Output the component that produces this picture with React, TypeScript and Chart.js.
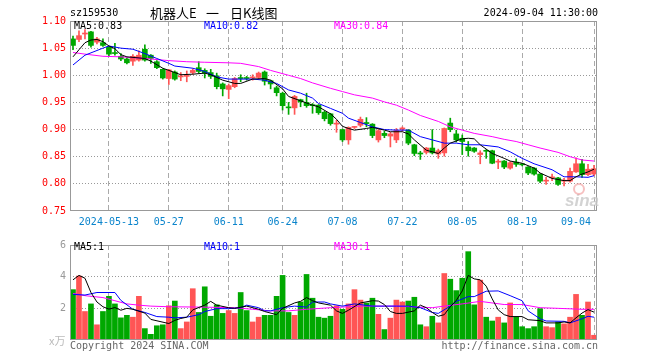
import React, { useEffect, useRef } from 'react';
import { Chart, registerables } from 'chart.js';
Chart.register(...registerables);

// ---------- data ----------
const dates = [
  '2024-04-30',
  '2024-05-06', '2024-05-07', '2024-05-08', '2024-05-09', '2024-05-10',
  '2024-05-13', '2024-05-14', '2024-05-15', '2024-05-16', '2024-05-17',
  '2024-05-20', '2024-05-21', '2024-05-22', '2024-05-23', '2024-05-24',
  '2024-05-27', '2024-05-28', '2024-05-29', '2024-05-30', '2024-05-31',
  '2024-06-03', '2024-06-04', '2024-06-05', '2024-06-06', '2024-06-07',
  '2024-06-11', '2024-06-12', '2024-06-13', '2024-06-14',
  '2024-06-17', '2024-06-18', '2024-06-19', '2024-06-20', '2024-06-21',
  '2024-06-24', '2024-06-25', '2024-06-26', '2024-06-27', '2024-06-28',
  '2024-07-01', '2024-07-02', '2024-07-03', '2024-07-04', '2024-07-05',
  '2024-07-08', '2024-07-09', '2024-07-10', '2024-07-11', '2024-07-12',
  '2024-07-15', '2024-07-16', '2024-07-17', '2024-07-18', '2024-07-19',
  '2024-07-22', '2024-07-23', '2024-07-24', '2024-07-25', '2024-07-26',
  '2024-07-29', '2024-07-30', '2024-07-31', '2024-08-01', '2024-08-02',
  '2024-08-05', '2024-08-06', '2024-08-07', '2024-08-08', '2024-08-09',
  '2024-08-12', '2024-08-13', '2024-08-14', '2024-08-15', '2024-08-16',
  '2024-08-19', '2024-08-20', '2024-08-21', '2024-08-22', '2024-08-23',
  '2024-08-26', '2024-08-27', '2024-08-28', '2024-08-29', '2024-08-30',
  '2024-09-02', '2024-09-03', '2024-09-04',
];

const opens = [
  1.067, 1.066, 1.076, 1.080, 1.061, 1.060, 1.052, 1.041, 1.035, 1.030,
  1.026, 1.028, 1.048, 1.037, 1.025, 1.011, 0.994, 1.006, 0.997, 0.998,
  1.005, 1.014, 1.009, 1.005, 0.999, 0.984, 0.974, 0.979, 0.995, 0.995,
  0.995, 0.996, 1.006, 0.990, 0.977, 0.967, 0.941, 0.940, 0.955, 0.950,
  0.945, 0.945, 0.932, 0.929, 0.910, 0.900, 0.881, 0.904, 0.908, 0.913,
  0.910, 0.881, 0.893, 0.888, 0.881, 0.901, 0.899, 0.872, 0.856, 0.858,
  0.866, 0.855, 0.857, 0.912, 0.892, 0.884, 0.868, 0.866, 0.854, 0.861,
  0.861, 0.840, 0.842, 0.829, 0.840, 0.837, 0.831, 0.829, 0.818, 0.805,
  0.811, 0.811, 0.805, 0.805, 0.822, 0.837, 0.817, 0.818,
];
const closes = [
  1.055, 1.073, 1.077, 1.055, 1.067, 1.055, 1.039, 1.040, 1.030, 1.023,
  1.035, 1.037, 1.028, 1.031, 1.014, 0.995, 1.010, 0.993, 0.998, 0.999,
  1.009, 1.007, 1.004, 0.998, 0.979, 0.975, 0.981, 0.994, 0.994, 0.994,
  0.997, 1.004, 0.989, 0.984, 0.968, 0.944, 0.940, 0.961, 0.951, 0.944,
  0.944, 0.931, 0.920, 0.911, 0.911, 0.881, 0.904, 0.904, 0.919, 0.911,
  0.889, 0.898, 0.889, 0.892, 0.898, 0.903, 0.875, 0.856, 0.855, 0.866,
  0.857, 0.861, 0.902, 0.900, 0.881, 0.878, 0.861, 0.860, 0.857, 0.860,
  0.838, 0.841, 0.831, 0.839, 0.836, 0.835, 0.820, 0.818, 0.805, 0.806,
  0.812, 0.799, 0.806, 0.823, 0.837, 0.817, 0.827, 0.828,
];
const highs = [
  1.072, 1.082, 1.084, 1.081, 1.070, 1.067, 1.053, 1.059, 1.040, 1.032,
  1.038, 1.045, 1.056, 1.038, 1.027, 1.012, 1.011, 1.008, 1.005, 1.008,
  1.012, 1.025, 1.012, 1.011, 1.004, 0.986, 0.984, 0.996, 1.001, 0.998,
  1.001, 1.006, 1.008, 0.991, 0.980, 0.969, 0.950, 0.963, 0.956, 0.967,
  0.948, 0.946, 0.934, 0.930, 0.917, 0.901, 0.905, 0.906, 0.923, 0.922,
  0.911, 0.900, 0.897, 0.895, 0.902, 0.905, 0.900, 0.873, 0.860, 0.867,
  0.900, 0.864, 0.903, 0.921, 0.899, 0.890, 0.878, 0.867, 0.861, 0.863,
  0.862, 0.845, 0.843, 0.841, 0.846, 0.838, 0.832, 0.830, 0.819, 0.812,
  0.818, 0.812, 0.810, 0.829, 0.848, 0.845, 0.836, 0.834,
];
const lows = [
  1.047, 1.062, 1.067, 1.052, 1.058, 1.053, 1.036, 1.037, 1.027, 1.021,
  1.018, 1.026, 1.026, 1.022, 1.012, 0.993, 0.983, 0.991, 0.990, 0.988,
  1.002, 1.004, 0.995, 0.994, 0.975, 0.962, 0.957, 0.977, 0.988, 0.991,
  0.991, 0.994, 0.982, 0.975, 0.962, 0.936, 0.928, 0.928, 0.942, 0.941,
  0.930, 0.928, 0.916, 0.908, 0.895, 0.878, 0.873, 0.902, 0.905, 0.905,
  0.885, 0.877, 0.885, 0.868, 0.876, 0.897, 0.872, 0.852, 0.845, 0.855,
  0.855, 0.847, 0.851, 0.896, 0.877, 0.854, 0.851, 0.858, 0.837, 0.847,
  0.837, 0.828, 0.828, 0.827, 0.832, 0.833, 0.817, 0.816, 0.802, 0.799,
  0.806, 0.797, 0.796, 0.803, 0.821, 0.812, 0.815, 0.815,
];

const volumes = [
  3.18, 4.04, 1.8, 2.28, 0.96, 1.8, 2.76, 2.28, 1.4, 1.56,
  1.44, 2.76, 0.72, 0.36, 0.9, 0.96, 2.16, 2.46, 0.72, 1.14,
  3.24, 1.74, 3.36, 1.5, 2.22, 1.68, 1.86, 1.68, 3.0, 1.86,
  1.14, 1.44, 1.56, 1.56, 2.76, 4.08, 1.74, 1.56, 2.4, 4.14,
  2.64, 1.44, 1.38, 1.5, 2.16, 1.94, 2.28, 3.18, 2.52, 2.34,
  2.64, 1.62, 0.66, 1.38, 2.52, 2.4, 2.46, 2.7, 0.96, 0.84,
  1.5, 1.08, 4.2, 3.84, 3.12, 3.9, 5.58, 2.22, 3.78, 1.44,
  1.2, 1.44, 1.08, 2.34, 1.44, 0.84, 0.72, 0.84, 1.98, 0.84,
  0.78, 1.14, 1.02, 1.44, 2.88, 1.56, 2.4, 0.3,
];

// moving-average lines: [candle index, value]
const ma5Pts: [number, number][] = [
  [0, 1.034], [1, 1.047], [2, 1.06], [3, 1.065], [4, 1.066], [5, 1.062], [6, 1.054], [7, 1.049],
  [8, 1.038], [9, 1.034], [12, 1.031], [13, 1.026], [15, 1.013], [17, 1.005], [18, 1.001],
  [20, 1.002], [22, 1.004], [23, 1.001], [25, 0.991], [27, 0.985], [28, 0.985], [30, 0.993],
  [32, 0.994], [33, 0.991], [35, 0.975], [36, 0.961], [38, 0.953], [40, 0.945], [41, 0.942],
  [43, 0.929], [44, 0.919], [45, 0.906], [46, 0.902], [47, 0.899], [49, 0.902], [50, 0.904],
  [52, 0.899], [53, 0.896], [55, 0.896], [56, 0.892], [57, 0.881], [59, 0.862], [61, 0.856],
  [62, 0.866], [63, 0.875], [65, 0.883], [66, 0.884], [67, 0.883], [68, 0.872], [70, 0.856],
  [72, 0.847], [73, 0.842], [75, 0.838], [77, 0.829], [78, 0.82], [80, 0.81], [82, 0.806],
  [83, 0.806], [84, 0.813], [85, 0.818], [86, 0.822], [87, 0.827],
];
const ma10Pts: [number, number][] = [
  [0, 1.019], [2, 1.037], [5, 1.05], [6, 1.054], [8, 1.05], [10, 1.048], [12, 1.04], [14, 1.031],
  [16, 1.022], [17, 1.017], [20, 1.013], [22, 1.007], [24, 0.997], [26, 0.993], [28, 0.993],
  [30, 0.993], [32, 0.991], [34, 0.985], [36, 0.973], [38, 0.967], [40, 0.958], [41, 0.948],
  [43, 0.939], [45, 0.93], [46, 0.921], [48, 0.913], [50, 0.905], [52, 0.9], [54, 0.899],
  [56, 0.899], [58, 0.887], [60, 0.881], [62, 0.875], [64, 0.875], [66, 0.872], [68, 0.872],
  [71, 0.868], [73, 0.859], [75, 0.847], [77, 0.837], [80, 0.826], [82, 0.813], [84, 0.813],
  [86, 0.812], [87, 0.815],
];
const ma30Pts: [number, number][] = [
  [0, 1.042], [2, 1.039], [5, 1.035], [8, 1.034], [12, 1.031], [16, 1.027], [19, 1.025],
  [22, 1.024], [26, 1.023], [28, 1.022], [31, 1.016], [33, 1.009], [36, 1.0], [38, 0.994],
  [40, 0.986], [43, 0.976], [45, 0.97], [47, 0.964], [50, 0.958], [52, 0.951], [54, 0.945],
  [56, 0.936], [58, 0.926], [61, 0.915], [63, 0.905], [65, 0.899], [67, 0.893], [70, 0.887],
  [72, 0.882], [74, 0.878], [76, 0.872], [78, 0.866], [81, 0.858], [83, 0.85], [85, 0.844],
  [87, 0.842],
];
const vma5Pts: [number, number][] = [
  [0, 3.8], [1, 4.08], [2, 3.9], [3, 3.0], [4, 2.4], [5, 2.1], [6, 1.95], [7, 2.05], [8, 1.88],
  [9, 2.0], [10, 1.94], [12, 1.7], [13, 1.3], [16, 1.04], [17, 1.24], [18, 1.36], [19, 1.44],
  [20, 1.9], [22, 2.2], [23, 2.44], [24, 2.2], [26, 2.04], [27, 2.0], [29, 2.14], [31, 1.94],
  [32, 1.8], [34, 1.6], [35, 2.0], [37, 2.34], [38, 2.44], [39, 2.68], [40, 2.48], [41, 2.34],
  [43, 2.2], [44, 1.84], [45, 1.68], [46, 1.88], [48, 2.34], [50, 2.48], [51, 2.46], [52, 2.24],
  [53, 1.8], [54, 1.68], [55, 1.68], [57, 1.84], [58, 2.2], [59, 2.04], [60, 1.74], [61, 1.5],
  [62, 1.6], [63, 2.1], [64, 2.5], [65, 3.1], [66, 4.08], [67, 3.86], [68, 3.8], [69, 3.4],
  [70, 2.6], [71, 1.9], [72, 1.6], [73, 1.48], [75, 1.48], [76, 1.28], [78, 1.22], [79, 1.08],
  [81, 1.08], [82, 1.14], [83, 1.08], [84, 1.4], [85, 1.7], [86, 1.92], [87, 1.76],
];
const vma10Pts: [number, number][] = [
  [0, 2.88], [2, 2.84], [4, 3.0], [7, 3.0], [8, 2.5], [10, 1.94], [12, 1.74], [14, 1.48],
  [16, 1.44], [17, 1.4], [19, 1.44], [21, 1.6], [22, 1.8], [24, 1.98], [26, 1.98], [28, 2.04],
  [29, 2.2], [31, 2.04], [32, 1.84], [33, 1.84], [35, 2.04], [37, 2.14], [39, 2.08], [40, 2.4],
  [42, 2.4], [43, 2.28], [45, 2.14], [47, 2.28], [50, 2.14], [52, 2.14], [54, 2.14], [56, 2.14],
  [58, 2.04], [60, 1.74], [61, 1.68], [63, 2.14], [64, 2.44], [66, 2.74], [67, 2.74], [69, 3.08],
  [71, 3.1], [73, 2.8], [75, 2.48], [76, 1.84], [78, 1.34], [79, 1.2], [82, 1.18], [83, 1.08],
  [85, 1.34], [86, 1.5], [87, 1.44],
];
const vma30Pts: [number, number][] = [
  [0, 2.94], [2, 2.8], [5, 2.68], [7, 2.48], [9, 2.28], [11, 2.2], [13, 2.14], [16, 2.1],
  [21, 2.08], [27, 2.04], [30, 1.94], [33, 1.84], [36, 1.84], [39, 1.94], [43, 2.04], [48, 2.14],
  [54, 2.14], [60, 2.04], [62, 2.14], [65, 2.28], [68, 2.44], [72, 2.24], [75, 2.24], [78, 2.04],
  [81, 2.0], [85, 1.94], [87, 1.94],
];

const labelIdx = [6, 16, 26, 35, 45, 55, 65, 75, 87];

const stockCode = 'sz159530';
const titleParts = ['机器人E', '一', '日K线图'];
const stamp = '2024-09-04 11:30:00';
const priceLegend = ['MA5:0.83', 'MA10:0.82', 'MA30:0.84'];
const volLegend = ['MA5:1', 'MA10:1', 'MA30:1'];
const volUnit = 'x万';
const copyright = 'Copyright 2024 SINA.COM';
const siteUrl = 'http://finance.sina.com.cn';

// ---------- styles ----------
const MONO = '"DejaVu Sans Mono", "Liberation Mono", monospace';
const CJK = '"Noto Sans CJK SC", sans-serif';
const RED = '#ff5555';
const GREEN = '#00a800';
const LEG = ['#000000', '#0000ff', '#ff00ff'];
const LEGX = [74, 204, 334];

const N = dates.length;
const sparse = (pts: [number, number][]) => {
  const a: (number | null)[] = new Array(N).fill(null);
  pts.forEach(([i, v]) => { a[i] = v; });
  return a;
};
const colors = opens.map((o, i) => (closes[i] >= o ? RED : GREEN));

const framePlugin = {
  id: 'frame',
  afterDraw(chart: any) {
    const { ctx, chartArea } = chart;
    const { left, top, right, bottom } = chartArea;
    ctx.save();
    ctx.strokeStyle = '#999';
    ctx.lineWidth = 1;
    ctx.strokeRect(left + 0.5, top + 0.5, right - left - 1, bottom - top - 1);
    ctx.restore();
  },
};

const xGrid = {
  offset: false,
  drawTicks: false,
  lineWidth: 1,
  color: (c: any) => (labelIdx.includes(c.index) ? '#aaaaaa' : 'rgba(0,0,0,0)'),
};

const lineDs = (data: (number | null)[], color: string) => ({
  type: 'line' as const,
  data,
  borderColor: color,
  borderWidth: 1,
  pointRadius: 0,
  spanGaps: true,
  tension: 0,
  fill: false,
});

const xTick = (i: number) => {
  if (!labelIdx.includes(i)) return '';
  if (i === labelIdx[0]) return dates[i];
  const s = dates[i].slice(5);
  return i === N - 1 ? s + '      ' : s;
};

export default function App() {
  const priceRef = useRef<HTMLCanvasElement>(null);
  const volRef = useRef<HTMLCanvasElement>(null);

  useEffect(() => {
    const priceText = {
      id: 'priceText',
      afterDraw(chart: any) {
        const ctx = chart.ctx;
        ctx.save();
        ctx.textBaseline = 'middle';
        ctx.font = `10px ${MONO}`;
        ctx.fillStyle = '#000';
        ctx.textAlign = 'left';
        ctx.fillText(stockCode, 70, 13);
        ctx.textAlign = 'right';
        ctx.fillText(stamp, 598, 13);
        ctx.textAlign = 'left';
        ctx.font = `13px ${CJK}`;
        ctx.fillText(titleParts[0], 150, 13);
        ctx.fillText(titleParts[1], 206, 13);
        ctx.fillText(titleParts[2], 230, 13);
        ctx.font = `10px ${MONO}`;
        priceLegend.forEach((t, i) => {
          ctx.fillStyle = LEG[i];
          ctx.fillText(t, LEGX[i], 26);
        });
        // faint watermark
        ctx.font = `italic bold 17px "Liberation Sans", sans-serif`;
        ctx.fillStyle = 'rgba(200,200,200,0.8)';
        ctx.textBaseline = 'alphabetic';
        ctx.fillText('sina', 565, 206);
        ctx.strokeStyle = 'rgba(240,150,150,0.6)';
        ctx.lineWidth = 2;
        ctx.beginPath();
        ctx.arc(579, 189, 5, 0, Math.PI * 2);
        ctx.stroke();
        ctx.restore();
      },
    };

    const volText = {
      id: 'volText',
      afterDraw(chart: any) {
        const ctx = chart.ctx;
        ctx.save();
        ctx.textBaseline = 'middle';
        ctx.font = `10px ${MONO}`;
        ctx.textAlign = 'left';
        volLegend.forEach((t, i) => {
          ctx.fillStyle = LEG[i];
          ctx.fillText(t, LEGX[i], 12);
        });
        ctx.fillStyle = '#666';
        ctx.fillText(copyright, 70, 111);
        ctx.textAlign = 'right';
        ctx.fillText(siteUrl, 598, 111);
        ctx.textAlign = 'left';
        ctx.fillStyle = '#bbb';
        ctx.font = `11px ${CJK}`;
        ctx.fillText(volUnit, 49, 106);
        ctx.restore();
      },
    };

    const price = new Chart(priceRef.current!, {
      type: 'bar',
      data: {
        labels: dates,
        datasets: [
          lineDs(sparse(ma5Pts), LEG[0]),
          lineDs(sparse(ma10Pts), LEG[1]),
          lineDs(sparse(ma30Pts), LEG[2]),
          {
            type: 'bar',
            data: opens.map((o, i) => [Math.min(o, closes[i]), Math.max(o, closes[i])]),
            backgroundColor: colors,
            barThickness: 5,
            grouped: false,
            minBarLength: 1,
          } as any,
          {
            type: 'bar',
            data: lows.map((l, i) => [l, highs[i]]),
            backgroundColor: colors,
            barThickness: 1,
            grouped: false,
          } as any,
        ],
      },
      options: {
        responsive: false,
        animation: false,
        events: [],
        layout: { padding: { top: 21, right: 63, left: 0, bottom: 0 } },
        plugins: { legend: { display: false }, tooltip: { enabled: false } },
        scales: {
          x: {
            offset: true,
            grid: xGrid as any,
            border: { display: false, dash: [5, 3] },
            ticks: {
              autoSkip: false,
              maxRotation: 0,
              minRotation: 0,
              padding: 5,
              color: '#0a84cc',
              font: { family: MONO, size: 10 },
              callback: (_v: any, i: number) => xTick(i),
            },
            afterFit: (s: any) => { s.height = 24; },
          },
          y: {
            min: 0.75,
            max: 1.1,
            ticks: {
              stepSize: 0.05,
              padding: 4,
              color: '#ff0000',
              font: { family: MONO, size: 10 },
              callback: (v: any) => Number(v).toFixed(2),
            },
            grid: {
              drawTicks: false,
              color: (c: any) => {
                const v = c.tick ? c.tick.value : 0;
                return v < 0.76 || v > 1.09 ? 'rgba(0,0,0,0)' : '#999';
              },
            },
            border: { display: false, dash: [1, 2] },
            afterFit: (s: any) => { s.width = 70; },
          },
        },
      } as any,
      plugins: [framePlugin, priceText],
    });

    const vol = new Chart(volRef.current!, {
      type: 'bar',
      data: {
        labels: dates,
        datasets: [
          lineDs(sparse(vma5Pts), LEG[0]),
          lineDs(sparse(vma10Pts), LEG[1]),
          lineDs(sparse(vma30Pts), LEG[2]),
          {
            type: 'bar',
            data: volumes,
            backgroundColor: colors,
            barThickness: 5,
            grouped: false,
          } as any,
        ],
      },
      options: {
        responsive: false,
        animation: false,
        events: [],
        layout: { padding: { top: 5, right: 63, left: 0, bottom: 20 } },
        plugins: { legend: { display: false }, tooltip: { enabled: false } },
        scales: {
          x: {
            offset: true,
            grid: xGrid as any,
            border: { display: false, dash: [5, 3] },
            ticks: { display: false, autoSkip: false },
            afterFit: (s: any) => { s.height = 0; },
          },
          y: {
            min: 0,
            max: 6,
            ticks: {
              stepSize: 2,
              padding: 4,
              color: '#999',
              font: { family: MONO, size: 10 },
              callback: (v: any) => (Number(v) === 0 ? '' : String(v)),
            },
            grid: {
              drawTicks: false,
              color: (c: any) => {
                const v = c.tick ? c.tick.value : 0;
                return v === 2 || v === 4 ? '#999' : 'rgba(0,0,0,0)';
              },
            },
            border: { display: false, dash: [1, 2] },
            afterFit: (s: any) => { s.width = 70; },
          },
        },
      } as any,
      plugins: [framePlugin, volText],
    });

    return () => {
      price.destroy();
      vol.destroy();
    };
  }, []);

  return (
    <div style={{ position: 'fixed', left: 0, top: 0, width: 660, height: 360, background: '#fff' }}>
      <canvas ref={priceRef} width={660} height={235} style={{ position: 'absolute', left: 0, top: 0 }} />
      <canvas ref={volRef} width={660} height={125} style={{ position: 'absolute', left: 0, top: 235 }} />
    </div>
  );
}
